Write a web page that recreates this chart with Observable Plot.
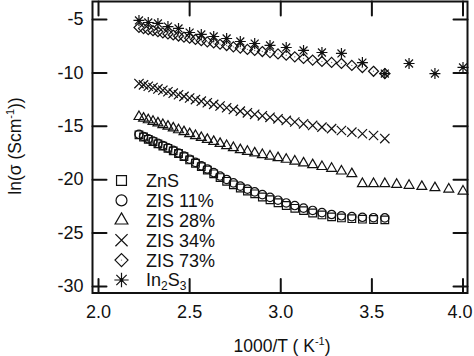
<!DOCTYPE html>
<html><head><meta charset="utf-8">
<script src="https://cdn.jsdelivr.net/npm/d3@7"></script>
<script src="https://cdn.jsdelivr.net/npm/@observablehq/plot@0.6"></script>
<style>html,body{margin:0;padding:0;background:#fff;}</style>
</head><body><div id="chart"></div>
<script>
// 1000/T values (K^-1)
const xT5 = [2.222, 2.247, 2.273, 2.299, 2.326, 2.353, 2.381, 2.410, 2.439, 2.469,
  2.500, 2.532, 2.564, 2.597, 2.632, 2.667, 2.703, 2.740, 2.778, 2.817,
  2.857, 2.899, 2.941, 2.985, 3.030, 3.077, 3.125, 3.175, 3.226, 3.279,
  3.333, 3.390, 3.448, 3.509, 3.571];
const xZIS28 = [2.222, 2.247, 2.273, 2.299, 2.326, 2.353, 2.381, 2.410, 2.439, 2.469,
  2.500, 2.532, 2.564, 2.597, 2.632, 2.667, 2.703, 2.740, 2.778, 2.817,
  2.857, 2.899, 2.941, 2.985, 3.030, 3.077, 3.125, 3.175, 3.226, 3.279,
  3.333, 3.390, 3.448, 3.509, 3.571, 3.636, 3.704, 3.774, 3.846, 3.922, 4.000];
const xT10 = [2.222, 2.273, 2.326, 2.381, 2.439, 2.500, 2.564, 2.632, 2.703, 2.778,
  2.857, 2.941, 3.030, 3.125, 3.226, 3.333, 3.448, 3.571, 3.704, 3.846, 4.000];

// ln(sigma) values
const yZnS = [-15.80, -16.00, -16.22, -16.43, -16.64, -16.85, -17.06, -17.30, -17.55, -17.84,
  -18.15, -18.46, -18.78, -19.10, -19.45, -19.80, -20.15, -20.48, -20.78, -21.07,
  -21.32, -21.62, -21.88, -22.16, -22.42, -22.68, -22.90, -23.12, -23.30, -23.48,
  -23.58, -23.65, -23.70, -23.73, -23.76];
const yZIS11 = [-15.75, -15.95, -16.17, -16.38, -16.60, -16.80, -17.02, -17.25, -17.50, -17.78,
  -18.08, -18.38, -18.70, -19.00, -19.33, -19.66, -19.98, -20.30, -20.60, -20.88,
  -21.14, -21.40, -21.66, -21.92, -22.18, -22.42, -22.66, -22.88, -23.08, -23.26,
  -23.38, -23.46, -23.52, -23.56, -23.58];
const yZIS28 = [-14.10, -14.25, -14.40, -14.55, -14.70, -14.85, -15.00, -15.17, -15.34, -15.52,
  -15.70, -15.88, -16.06, -16.24, -16.43, -16.62, -16.82, -17.01, -17.20, -17.36,
  -17.51, -17.66, -17.80, -17.95, -18.10, -18.27, -18.44, -18.61, -18.78, -18.95,
  -19.20, -19.45, -20.38, -20.38, -20.38, -20.45, -20.54, -20.64, -20.76, -20.89, -21.08];
const yZIS34 = [-11.00, -11.12, -11.25, -11.37, -11.50, -11.63, -11.77, -11.90, -12.05, -12.20,
  -12.35, -12.50, -12.65, -12.80, -12.95, -13.10, -13.26, -13.42, -13.58, -13.74,
  -13.88, -14.02, -14.16, -14.30, -14.45, -14.60, -14.77, -14.92, -15.08, -15.22,
  -15.39, -15.55, -15.70, -15.86, -16.15];
const yZIS73 = [-5.75, -5.85, -5.95, -6.05, -6.15, -6.25, -6.35, -6.45, -6.55, -6.65,
  -6.75, -6.87, -6.98, -7.09, -7.20, -7.32, -7.44, -7.56, -7.68, -7.80,
  -7.90, -8.00, -8.10, -8.22, -8.35, -8.50, -8.65, -8.80, -8.93, -9.02,
  -9.12, -9.30, -9.50, -9.85, -10.06];
const yIn2S3 = [-5.09, -5.28, -5.37, -5.66, -5.84, -6.22, -6.40, -6.59, -6.78, -7.06,
  -7.25, -7.43, -7.62, -7.90, -8.09, -8.18, -9.03, -10.06, -9.12, -10.06, -9.49];

const seriesNames = ["ZnS", "ZIS 11%", "ZIS 28%", "ZIS 34%", "ZIS 73%", "In2S3"];
const xTicks = [2.0, 2.5, 3.0, 3.5, 4.0];
const yTicks = [-30, -25, -20, -15, -10, -5];

const rows = (xs, ys, name) => xs.map((x, i) => ({x, y: ys[i], name}));
const dZnS = rows(xT5, yZnS, seriesNames[0]);
const dZIS11 = rows(xT5, yZIS11, seriesNames[1]);
const dZIS28 = rows(xZIS28, yZIS28, seriesNames[2]);
const dZIS34 = rows(xT5, yZIS34, seriesNames[3]);
const dZIS73 = rows(xT5, yZIS73, seriesNames[4]);
const dIn2S3 = rows(xT10, yIn2S3, seriesNames[5]);

// 8-armed asterisk symbol
const star8 = {draw(ctx, size) {
  const r = Math.sqrt(size / Math.PI);
  const d = r * 0.72;
  ctx.moveTo(-r, 0); ctx.lineTo(r, 0);
  ctx.moveTo(0, -r); ctx.lineTo(0, r);
  ctx.moveTo(-d, -d); ctx.lineTo(d, d);
  ctx.moveTo(-d, d); ctx.lineTo(d, -d);
}};
// straight tick shape for vector marks (drawn pointing "up", rotated by Plot)
const tickLine = {draw(c, l) { c.moveTo(0, 0); c.lineTo(0, -l); }};

const ink = "#111";
const sw = 1.2;
const symbols = [d3.symbolSquare, d3.symbolCircle, d3.symbolTriangle2, d3.symbolTimes, d3.symbolDiamond2, star8];
const radii = [4.3, 4.2, 4.7, 4.3, 4.5, 5.5];
const datasets = [dZnS, dZIS11, dZIS28, dZIS34, dZIS73, dIn2S3];

const seriesMarks = datasets.map((d, i) => Plot.dot(d, {x: "x", y: "y", symbol: () => symbols[i], r: radii[i], fill: "none", stroke: ink, strokeWidth: sw}));

const tickOpts = {length: 14, anchor: "start", shape: tickLine, stroke: ink, strokeWidth: 2};
const xLabelOpts = {anchor: "bottom", tickSize: 0, tickPadding: 12, tickFormat: d3.format(".1f"), label: null};

const chart = Plot.plot({
  width: 474, height: 356,
  marginLeft: 92, marginRight: 7, marginTop: 1, marginBottom: 63.5,
  x: {domain: [1.967, 4.0247]},
  y: {domain: [-30.61, -3.315]},
  symbol: {type: "identity"},
  style: {fontFamily: "'Liberation Sans', Arial, sans-serif", fontSize: "18px", color: ink, background: "#fff"},
  marks: [
    ...seriesMarks,
    Plot.dot(dZIS73, {x: "x", y: "y", r: 0.7, fill: "#777", stroke: "none"}),
    Plot.dot(dIn2S3, {x: "x", y: "y", symbol: "square", r: 1.6, fill: ink, stroke: "none"}),
    Plot.axisX(xTicks.slice(0, -1), xLabelOpts),
    Plot.axisX(xTicks.slice(-1), {...xLabelOpts, dx: -3}),
    Plot.axisY(yTicks, {anchor: "left", tickSize: 0, tickPadding: 9, tickFormat: d => String(d), label: null}),
    Plot.vector(yTicks, {y: d => d, frameAnchor: "left", rotate: 90, ...tickOpts}),
    Plot.vector(yTicks, {y: d => d, frameAnchor: "right", rotate: -90, ...tickOpts}),
    Plot.vector(xTicks, {x: d => d, frameAnchor: "bottom", rotate: 0, ...tickOpts}),
    Plot.vector(xTicks, {x: d => d, frameAnchor: "top", rotate: 180, ...tickOpts}),
    Plot.frame({stroke: ink, strokeWidth: 2})
  ]
});
document.getElementById("chart").append(chart);

const svg = d3.select(chart);
// Axis titles
const yt = svg.append("text").attr("transform", "translate(21,146) rotate(-90)")
  .attr("text-anchor", "middle").attr("fill", ink).attr("font-size", 17.5);
yt.append("tspan").text("ln(σ (Scm");
yt.append("tspan").attr("dy", -7).attr("font-size", 11).text("-1");
yt.append("tspan").attr("dy", 7).text("))");

const xt = svg.append("text").attr("x", 282).attr("y", 352)
  .attr("text-anchor", "middle").attr("fill", ink).attr("font-size", 17.5);
xt.append("tspan").text("1000/T ( K");
xt.append("tspan").attr("dy", -7).attr("font-size", 11).text("-1");
xt.append("tspan").attr("dy", 7).text(")");

// Legend
const leg = svg.append("g").attr("text-anchor", "start");
seriesNames.forEach((name, i) => {
  const cy = 180.5 + i * 19.9;
  const r = radii[i] * 1.3;
  leg.append("path")
    .attr("transform", `translate(121.5,${cy})`)
    .attr("d", d3.symbol(symbols[i], Math.PI * r * r)())
    .attr("fill", "none").attr("stroke", ink).attr("stroke-width", sw);
  if (i === 4) leg.append("circle").attr("cx", 121.5).attr("cy", cy).attr("r", 0.7).attr("fill", "#777");
  if (i === 5) leg.append("rect").attr("x", 121.5 - 1.7).attr("y", cy - 1.7).attr("width", 3.4).attr("height", 3.4).attr("fill", ink);
  const t = leg.append("text").attr("x", 146).attr("y", cy).attr("dy", "0.36em").attr("fill", ink).attr("text-anchor", "start");
  if (name === "In2S3") {
    t.append("tspan").text("In");
    t.append("tspan").attr("dy", 4).attr("font-size", 12).text("2");
    t.append("tspan").attr("dy", -4).text("S");
    t.append("tspan").attr("dy", 4).attr("font-size", 12).text("3");
  } else {
    t.text(name);
  }
});
</script></body></html>
